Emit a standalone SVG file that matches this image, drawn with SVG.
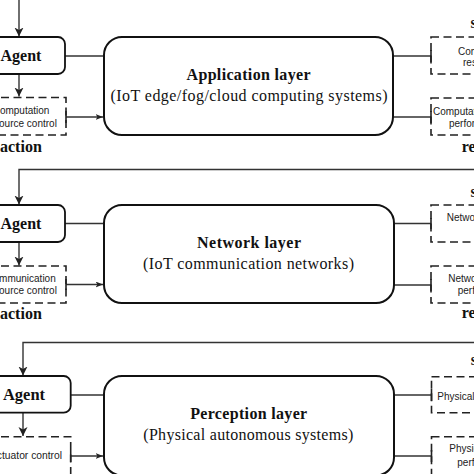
<svg xmlns="http://www.w3.org/2000/svg" width="474" height="474" viewBox="0 0 474 474">
<defs>
<style>
.big{fill:#fff;stroke:#111;stroke-width:2}
.agent{fill:#fff;stroke:#111;stroke-width:1.8}
.dash{fill:none;stroke:#222;stroke-width:1.6;stroke-dasharray:8 4.5}
.tick{stroke:#222;stroke-width:1.6}
.conn{stroke:#333;stroke-width:1.4;fill:none}
.t1{font-family:"Liberation Serif","Times New Roman",serif;font-weight:bold;font-size:16px;fill:#111}
.t2{font-family:"Liberation Serif","Times New Roman",serif;font-size:16px;fill:#111}
.sm{font-family:"Liberation Sans",Arial,sans-serif;font-size:10px;fill:#222}
.mid{text-anchor:middle}
</style>
<marker id="ah" markerUnits="userSpaceOnUse" markerWidth="10" markerHeight="10" refX="9" refY="4.5" orient="auto"><path d="M0,0 L9,4.5 L0,9 L2.5,4.5 z" fill="#222"/></marker>
<marker id="ahs" markerUnits="userSpaceOnUse" markerWidth="8" markerHeight="8" refX="7.5" refY="3" orient="auto"><path d="M0,0 L7.5,3 L0,6 L2,3 z" fill="#222"/></marker>
</defs>
<rect width="474" height="474" fill="#fff"/>

<g id="connectors">
<!-- row 1 -->
<line class="conn" x1="19" y1="0" x2="19" y2="36.5" marker-end="url(#ah)"/>
<line class="conn" x1="19" y1="74" x2="19" y2="96.5" marker-end="url(#ah)"/>
<line class="conn" x1="65" y1="56" x2="104" y2="56"/>
<line class="conn" x1="66" y1="117" x2="103" y2="117" marker-end="url(#ahs)"/>
<line class="conn" x1="393" y1="56" x2="431" y2="56"/>
<line class="conn" x1="393" y1="117" x2="431" y2="117"/>
<!-- row 2 -->
<polyline class="conn" points="474,169.5 19,169.5 19,204.5" marker-end="url(#ah)"/>
<line class="conn" x1="19" y1="242" x2="19" y2="265.5" marker-end="url(#ah)"/>
<line class="conn" x1="65" y1="223.5" x2="104" y2="223.5"/>
<line class="conn" x1="66" y1="284.5" x2="103" y2="284.5" marker-end="url(#ahs)"/>
<line class="conn" x1="394" y1="223.5" x2="431" y2="223.5"/>
<line class="conn" x1="394" y1="285" x2="431" y2="285"/>
<!-- row 3 -->
<polyline class="conn" points="474,342.5 23,342.5 23,375.5" marker-end="url(#ah)"/>
<line class="conn" x1="23" y1="413" x2="23" y2="436" marker-end="url(#ah)"/>
<line class="conn" x1="70.7" y1="395" x2="104" y2="395"/>
<line class="conn" x1="70.7" y1="456" x2="103" y2="456" marker-end="url(#ahs)"/>
<line class="conn" x1="394" y1="395" x2="431.5" y2="395"/>
<line class="conn" x1="394" y1="456" x2="431.5" y2="456"/>
</g>

<!-- Row 1 -->
<g id="agent1">
<rect class="agent" x="-24" y="37" width="89" height="37" rx="7"/>
<text class="t1 mid" x="21" y="61">Agent</text>
</g>
<g id="action1">
<rect class="dash" x="-24" y="97.5" width="90" height="37.5"/>
<line class="tick" x1="66" y1="111" x2="66" y2="123"/>
<text class="sm mid" x="21" y="114">Computation</text>
<text class="sm mid" x="21" y="126.5">resource control</text>
</g>
<g id="application">
<rect class="big" x="104" y="37" width="289" height="98" rx="18"/>
<text class="t1 mid" x="248.5" y="80" textLength="124">Application layer</text>
<text class="t2 mid" x="249" y="101" textLength="277">(IoT edge/fog/cloud computing systems)</text>
</g>
<g id="state1">
<rect class="dash" x="431" y="37" width="95" height="37"/>
<line class="tick" x1="431" y1="50" x2="431" y2="62"/>
<text class="sm" x="458" y="54.5">Computation</text>
<text class="sm" x="463" y="66">resources</text>
</g>
<g id="reward1">
<rect class="dash" x="431" y="98" width="95" height="37"/>
<line class="tick" x1="431" y1="111" x2="431" y2="123"/>
<text class="sm" x="433" y="115">Computation</text>
<text class="sm" x="449" y="127">performance</text>
</g>
<text class="t1" x="470.5" y="28">state</text>
<text class="t1" x="461.7" y="152">reward</text>
<text class="t1" x="0" y="152">action</text>

<!-- Row 2 -->
<g id="agent2">
<rect class="agent" x="-24" y="205" width="89" height="37" rx="7"/>
<text class="t1 mid" x="21" y="229">Agent</text>
</g>
<g id="action2">
<rect class="dash" x="-24" y="266" width="90" height="37"/>
<line class="tick" x1="66" y1="279" x2="66" y2="290"/>
<text class="sm mid" x="21" y="282">Communication</text>
<text class="sm mid" x="21" y="294">resource control</text>
</g>
<g id="network">
<rect class="big" x="104" y="205" width="290" height="98" rx="18"/>
<text class="t1 mid" x="249" y="247.5" textLength="104">Network layer</text>
<text class="t2 mid" x="248.5" y="268.5" textLength="211">(IoT communication networks)</text>
</g>
<g id="state2">
<rect class="dash" x="431" y="205" width="95" height="37"/>
<line class="tick" x1="431" y1="218" x2="431" y2="229"/>
<text class="sm" x="446.7" y="220.5">Network resources</text>
</g>
<g id="reward2">
<rect class="dash" x="431" y="266" width="95" height="37"/>
<line class="tick" x1="431" y1="279" x2="431" y2="291"/>
<text class="sm" x="448.3" y="282">Network</text>
<text class="sm" x="457.7" y="294">performance</text>
</g>
<text class="t1" x="470.5" y="197">state</text>
<text class="t1" x="461.7" y="318">reward</text>
<text class="t1" x="0" y="318.5">action</text>

<!-- Row 3 -->
<g id="agent3">
<rect class="agent" x="-24" y="376" width="94.7" height="36.7" rx="7"/>
<text class="t1 mid" x="24" y="400" style="font-size:16.5px">Agent</text>
</g>
<g id="action3">
<rect class="dash" x="-24" y="436.7" width="94.7" height="50"/>
<line class="tick" x1="70.7" y1="450" x2="70.7" y2="462"/>
<text class="sm mid" x="26" y="459" style="font-size:10.3px">Actuator control</text>
</g>
<g id="perception">
<rect class="big" x="104" y="376" width="290" height="99.5" rx="18"/>
<text class="t1 mid" x="248.7" y="419" textLength="117">Perception layer</text>
<text class="t2 mid" x="248.3" y="440" textLength="210">(Physical autonomous systems)</text>
</g>
<g id="state3">
<rect class="dash" x="431.5" y="376.7" width="95" height="36"/>
<line class="tick" x1="431.5" y1="389" x2="431.5" y2="401"/>
<text class="sm" x="437.3" y="400">Physical state</text>
</g>
<g id="reward3">
<rect class="dash" x="431.5" y="436.7" width="95" height="50"/>
<line class="tick" x1="431.5" y1="450" x2="431.5" y2="462"/>
<text class="sm" x="449.3" y="452">Physical</text>
<text class="sm" x="457.3" y="466">performance</text>
</g>
<text class="t1" x="470.7" y="365">state</text>
</svg>
